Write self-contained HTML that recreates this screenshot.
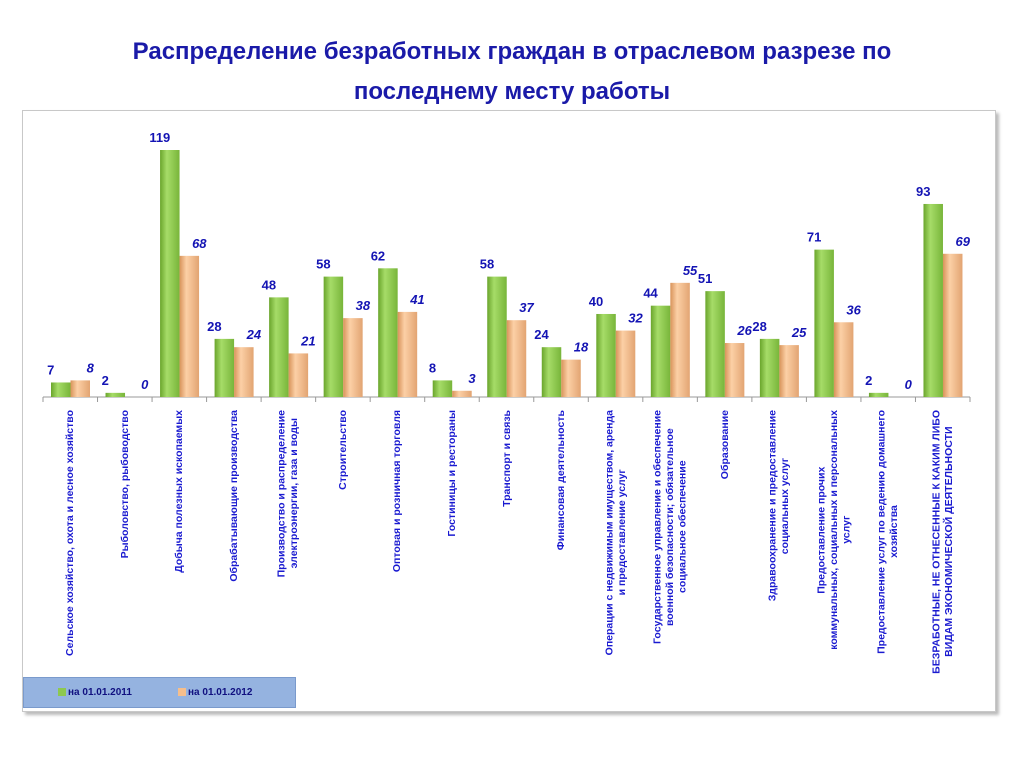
<!DOCTYPE html>
<html><head><meta charset="utf-8">
<style>
body{margin:0;width:1024px;height:768px;background:#fff;position:relative;overflow:hidden;font-family:"Liberation Sans","DejaVu Sans",sans-serif}
.title{position:absolute;left:0;width:1024px;top:32px;text-align:center;font-weight:bold;font-size:24px;line-height:40px;color:#1a1aa8}
.frame{position:absolute;left:22px;top:110px;width:972px;height:600px;border:1px solid #c8c8c8;box-shadow:3px 3px 3px #bbb}
.cat{position:absolute;top:410px;writing-mode:vertical-rl;transform:translateX(-50%) rotate(180deg);text-align:center;font-weight:bold;font-size:10.5px;line-height:12.5px;color:#1a1ad0;white-space:nowrap}
.legend{position:absolute;left:23px;top:677px;width:271px;height:29px;background:#95b3e0;border:1px solid #7a9acc}
.lg{position:absolute;top:9px;font-size:10px;font-weight:bold;color:#101080}
.sw{display:inline-block;width:8px;height:8px;margin-right:2px;vertical-align:-1px}
</style></head><body>
<div class="title">Распределение безработных граждан в отраслевом разрезе по<br>последнему месту работы</div>
<div class="frame"></div>
<svg id="chart" width="1024" height="768" style="position:absolute;left:0;top:0">
<defs>
<linearGradient id="gG" x1="0" x2="1"><stop offset="0" stop-color="#6aa52c"/><stop offset="0.35" stop-color="#a6dc68"/><stop offset="1" stop-color="#78b53a"/></linearGradient>
<linearGradient id="gO" x1="0" x2="1"><stop offset="0" stop-color="#d8935a"/><stop offset="0.35" stop-color="#fcd0a6"/><stop offset="1" stop-color="#e2a472"/></linearGradient>
</defs>
</svg>
<div id="cats"></div>
<div class="legend">
<span class="lg" style="left:34px"><span class="sw" style="background:#8dc850"></span>на 01.01.2011</span>
<span class="lg" style="left:154px"><span class="sw" style="background:#f5be8c"></span>на 01.01.2012</span>
</div>
<script>
const categories=["Сельское хозяйство, охота и лесное хозяйство","Рыболовство, рыбоводство","Добыча полезных ископаемых","Обрабатывающие производства","Производство и распределение<br>электроэнергии, газа и воды","Строительство","Оптовая и розничная торговля","Гостиницы и рестораны","Транспорт и связь","Финансовая деятельность","Операции с недвижимым имуществом, аренда<br>и предоставление услуг","Государственное управление и обеспечение<br>военной безопасности; обязательное<br>социальное обеспечение","Образование","Здравоохранение и предоставление<br>социальных услуг","Предоставление прочих<br>коммунальных, социальных и персональных<br>услуг","Предоставление услуг по ведению домашнего<br>хозяйства","БЕЗРАБОТНЫЕ, НЕ ОТНЕСЕННЫЕ К КАКИМ ЛИБО<br>ВИДАМ ЭКОНОМИЧЕСКОЙ ДЕЯТЕЛЬНОСТИ"];
const values2011=[7,2,119,28,48,58,62,8,58,24,40,44,51,28,71,2,93];
const values2012=[8,0,68,24,21,38,41,3,37,18,32,55,26,25,36,0,69];
const x0=43,x1=970,baseY=397,scale=247/119;
const cw=(x1-x0)/categories.length;
const xCat=i=>x0+i*cw;
const yVal=v=>baseY-v*scale;
const svg=document.getElementById('chart');
const NS='http://www.w3.org/2000/svg';
function mk(tag,attrs){const e=document.createElementNS(NS,tag);for(const k in attrs)e.setAttribute(k,attrs[k]);svg.appendChild(e);return e;}
const ax=mk('line',{x1:x0,x2:x1,y1:baseY,y2:baseY,stroke:'#999','stroke-width':1});


for(let i=0;i<=categories.length;i++){
  const t=mk('line',{x1:xCat(i),x2:xCat(i),y1:baseY,y2:baseY+5,stroke:'#999'});
  
  
}
const bw=19.5;
categories.forEach((c,i)=>{
  const gx=xCat(i)+8, ox=gx+bw;
  const g=mk('rect',{x:gx,y:yVal(values2011[i]),width:bw,height:values2011[i]*scale,fill:'url(#gG)'});
  
  
  const o=mk('rect',{x:ox,y:yVal(values2012[i]),width:bw,height:values2012[i]*scale,fill:'url(#gO)'});
  
  
  const tg=mk('text',{x:gx+bw/2-10,y:yVal(values2011[i])-8,'text-anchor':'middle','font-size':13,'font-weight':'bold',fill:'#1414b4'});
  tg.textContent=values2011[i];
  
  
  const to=mk('text',{x:ox+bw/2+10,y:yVal(values2012[i])-8,'text-anchor':'middle','font-size':13,'font-weight':'bold','font-style':'italic',fill:'#1414b4'});
  to.textContent=values2012[i];
  
  
  const d=document.createElement('div');
  d.className='cat';
  d.style.left=(xCat(i)+cw/2)+'px';
  d.innerHTML=c;
  
  
  document.getElementById('cats').appendChild(d);
});
</script>
</body></html>
